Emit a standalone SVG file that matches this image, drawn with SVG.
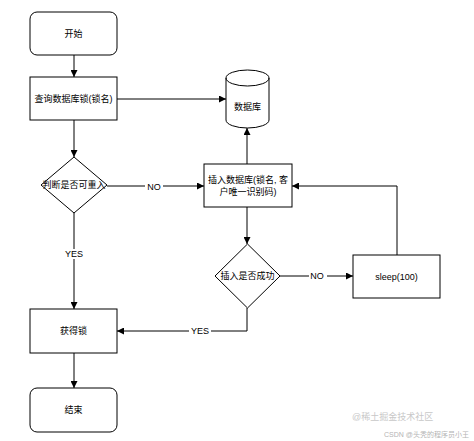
<svg xmlns="http://www.w3.org/2000/svg" width="474" height="441" viewBox="0 0 474 441">
<style>
.s{fill:#fff;stroke:#000;stroke-width:1}
.t{font-family:"Liberation Sans","Noto Sans CJK SC",sans-serif;font-size:9px;fill:#000;text-anchor:middle;dominant-baseline:central}
.c{fill:none;stroke:#000;stroke-width:1}
.lb{fill:#fff}
.w{font-family:"Liberation Sans","Noto Sans CJK SC",sans-serif;text-anchor:start;dominant-baseline:central}
</style>
<defs>
<marker id="a" viewBox="0 0 10 10" refX="10" refY="5" markerWidth="7" markerHeight="7" markerUnits="userSpaceOnUse" orient="auto">
<path d="M0,0 L10,5 L0,10 Z" fill="#000"/>
</marker>
</defs>
<rect width="474" height="441" fill="#fff"/>
<g id="connectors">
<path class="c" d="M74,55 V77" marker-end="url(#a)"/>
<path class="c" d="M117,99 H226" marker-end="url(#a)"/>
<path class="c" d="M74,120 V157" marker-end="url(#a)"/>
<path class="c" d="M107,186 H204" marker-end="url(#a)"/>
<rect class="lb" x="145" y="181" width="18" height="10"/>
<text class="t" x="154" y="187">NO</text>
<path class="c" d="M74,213 V309" marker-end="url(#a)"/>
<rect class="lb" x="63" y="249" width="22" height="10"/>
<text class="t" x="74" y="254">YES</text>
<path class="c" d="M247,164 V128" marker-end="url(#a)"/>
<path class="c" d="M247,207 V244" marker-end="url(#a)"/>
<path class="c" d="M280,276 H353" marker-end="url(#a)"/>
<rect class="lb" x="309" y="271" width="18" height="10"/>
<text class="t" x="317" y="276">NO</text>
<path class="c" d="M397,255 V186 H292" marker-end="url(#a)"/>
<path class="c" d="M247,308 V331 H117" marker-end="url(#a)"/>
<rect class="lb" x="189" y="326" width="22" height="10"/>
<text class="t" x="200" y="331">YES</text>
<path class="c" d="M74,353 V388" marker-end="url(#a)"/>
</g>
<g id="start">
<rect class="s" x="30" y="12" width="87" height="43" rx="7"/>
<text class="t" x="73.5" y="33.5">开始</text>
</g>
<g id="query">
<rect class="s" x="30" y="77" width="87" height="43"/>
<text class="t" x="73.5" y="98.5">查询数据库锁(锁名)</text>
</g>
<g id="db">
<path class="s" d="M226,78 A21.5,8 0 0 1 269,78 V120 A21.5,8 0 0 1 226,120 Z"/>
<path class="c" d="M226,78 A21.5,8 0 0 0 269,78"/>
<text class="t" x="247.5" y="107">数据库</text>
</g>
<g id="reentrant">
<path class="s" d="M74,157 L107,185 L74,213 L41,185 Z"/>
<text class="t" x="74" y="185">判断是否可重入</text>
</g>
<g id="insert">
<rect class="s" x="204" y="164" width="88" height="43"/>
<text class="t" x="248" y="180">插入数据库(锁名, 客</text>
<text class="t" x="248" y="192">户唯一识别码)</text>
</g>
<g id="success">
<path class="s" d="M247.5,244 L280,276 L247.5,308 L215,276 Z"/>
<text class="t" x="247.5" y="276">插入是否成功</text>
</g>
<g id="sleep">
<rect class="s" x="353" y="255" width="87" height="43"/>
<text class="t" x="396.5" y="276.5">sleep(100)</text>
</g>
<g id="acquire">
<rect class="s" x="30" y="309" width="87" height="44"/>
<text class="t" x="73.5" y="331">获得锁</text>
</g>
<g id="end">
<rect class="s" x="30" y="388" width="87" height="44" rx="7"/>
<text class="t" x="73.5" y="410">结束</text>
</g>
<text class="w" x="352" y="417" font-size="9" fill="#c8c8c8">@稀土掘金技术社区</text>
<text class="w" x="384" y="434" font-size="7" fill="#b4b4b4">CSDN @头秃的程序员小王</text>
</svg>
